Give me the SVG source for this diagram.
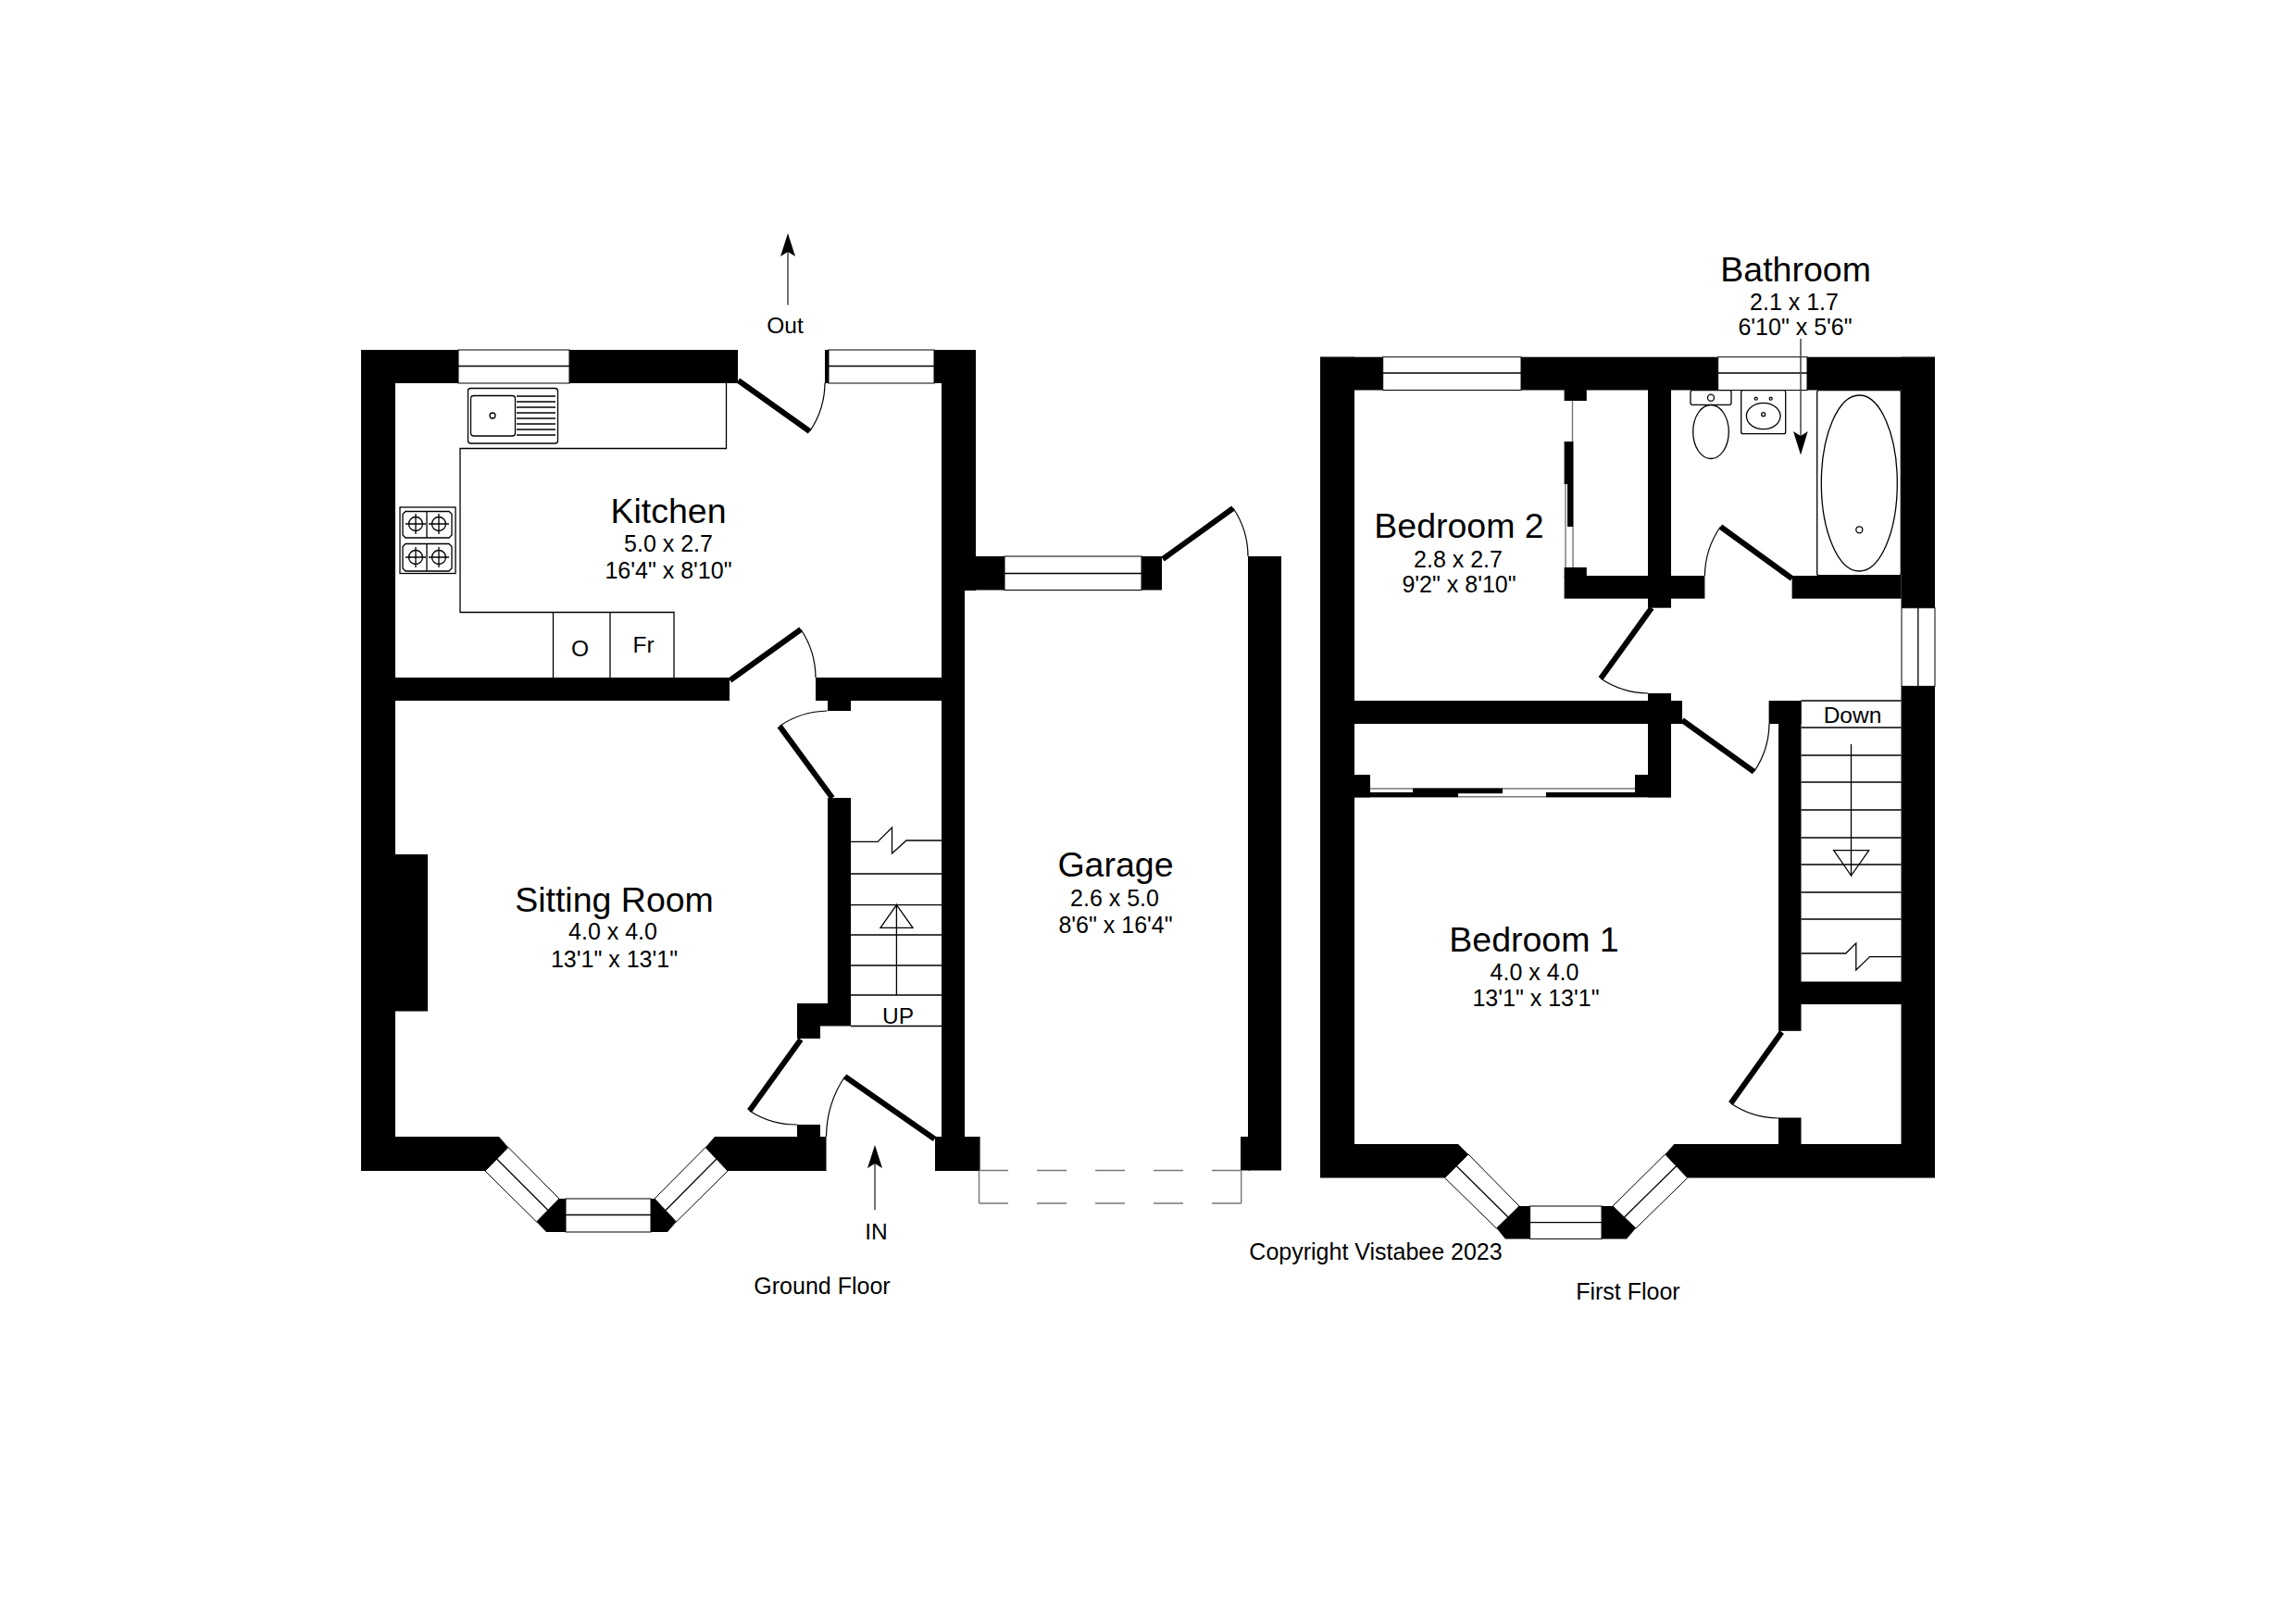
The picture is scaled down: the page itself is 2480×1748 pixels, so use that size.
<svg xmlns="http://www.w3.org/2000/svg" width="2480" height="1748" viewBox="0 0 2480 1748">
<style>
text{font-family:"Liberation Sans",Arial,sans-serif;fill:#000;text-anchor:middle}
.n{font-size:37.5px}.s{font-size:25px}.l{font-size:24.5px}.f{font-size:25px}
.w{fill:#000}
.t{fill:none;stroke:#000;stroke-width:1.3}
.g{fill:none;stroke:#777;stroke-width:1.4}
.win{fill:#fff;stroke:#000;stroke-width:1}
.d{stroke:#000;stroke-width:6;fill:none}
.a{fill:none;stroke:#000;stroke-width:1.2}
</style>
<defs>
<g id="burner"><circle r="7.5" class="t"/><path d="M-11 0H11M0-11V11" class="t"/></g>
</defs>
<rect width="2480" height="1748" fill="#fff"/>

<g id="ground-walls" class="w">
<rect x="390" y="378" width="105" height="36"/>
<rect x="615" y="378" width="182" height="36"/>
<rect x="891" y="378" width="4" height="36"/>
<rect x="1009" y="378" width="45" height="36"/>
<rect x="390" y="378" width="37" height="887"/>
<rect x="427" y="923" width="35" height="169.500"/>
<rect x="1017" y="378" width="37" height="260"/>
<rect x="1017" y="601" width="25" height="664"/>
<rect x="1017" y="601" width="68" height="36.500"/>
<rect x="1233" y="601" width="22" height="36.500"/>
<rect x="427" y="732" width="361" height="25"/>
<rect x="881" y="732" width="136" height="25"/>
<rect x="894" y="757" width="25" height="11"/>
<rect x="894" y="862" width="25" height="246.500"/>
<path d="M861 1084H894V1108.500H886V1122H861Z"/>
<path d="M427 1228H539L549 1239.500L524 1265H427Z"/>
<path d="M772 1228H861V1215H886V1228H892.500V1265H786L762 1239.500Z"/>
<path d="M604 1295H611V1331H590L579.500 1320Z"/>
<path d="M703 1295H708L730.500 1320L721 1331H703Z"/>
<rect x="1010" y="1228" width="48.600" height="37"/>
<rect x="1348" y="601" width="36" height="663.500"/>
<rect x="1340" y="1228" width="10" height="36.500"/>
</g>

<g id="ground-windows">
<rect x="495" y="378" width="120" height="36" class="win"/><path d="M495 395.500H615" class="t"/>
<rect x="895" y="378" width="114" height="36" class="win"/><path d="M895 395.500H1009" class="t"/>
<rect x="1085" y="601" width="148" height="36.500" class="win"/><path d="M1085 619.500H1233" class="t"/>
<path d="M549 1239.500L604 1295L579.500 1320L524 1265Z" class="win"/><path d="M536.500 1252L592 1307.500" class="t"/>
<rect x="611" y="1295" width="92" height="36" class="win"/><path d="M611 1312.500H703" class="t"/>
<path d="M707 1295L762 1239.500L786 1265L730.500 1320Z" class="win"/><path d="M719 1307.500L774 1252" class="t"/>
</g>

<g id="ground-doors">
<path d="M797.400 411L874.600 466M788.500 735L865 680M1009.500 1230.500L912.600 1163M865 1123L809.500 1200M899 862L842 784.400M1256 604L1332 549" class="d"/>
<path d="M874.600 466A94 94 0 0 0 891 413.500M865 680A94 94 0 0 1 881 732M912.600 1163A118 118 0 0 0 892.500 1228M809.500 1200A93 93 0 0 0 861 1215M842 784.400A95 95 0 0 1 893.500 768M1332 549A93 93 0 0 1 1348 601" class="a"/>
</g>

<g id="kitchen-fittings">
<path d="M784.500 414V484.500H497V661.500H728V732M597.500 661.500V732M659 661.500V732" class="t"/>
<rect x="505.500" y="419.500" width="97" height="59.500" rx="3" class="t"/>
<rect x="508.500" y="427.500" width="48" height="43.500" rx="3" class="t"/>
<circle cx="532" cy="449" r="3" class="t"/>
<path d="M558 428H600M558 434H600M558 440H600M558 446H600M558 452H600M558 458H600M558 464H600M558 470H600" class="t"/>
<rect x="432" y="548" width="60" height="71.500" class="t"/>
<path d="M438 552.500H485L488 555.500V578L485 581H438L435 578V555.500ZM438 587.500H485L488 590.500V614L485 617H438L435 614V590.500ZM461 552.500V581M461 587.500V617" class="t"/>
<use href="#burner" x="449" y="566"/><use href="#burner" x="474" y="566"/><use href="#burner" x="449" y="602"/><use href="#burner" x="474" y="602"/>
</g>

<g id="ground-stairs">
<path d="M919 944H1017M919 977.600H1017M919 1010H1017M919 1043H1017M919 1075H1017M919 1108.500H1017" class="t"/>
<path d="M919 909.400H948L963.500 894V922L979 908H1017" class="t"/>
<path d="M968.400 1075V977.600L951 1002.400H986L968.400 977.600" class="t"/>
</g>

<g id="garage-door" class="g">
<path d="M1057.500 1264.500H1089M1120 1264.500H1152M1183 1264.500H1215M1246 1264.500H1278M1309 1264.500H1340.700M1057.500 1300H1089M1120 1300H1152M1183 1300H1215M1246 1300H1278M1309 1300H1340.700M1057.500 1264.500V1300M1340.700 1264.500V1300"/>
</g>

<g id="first-walls" class="w">
<rect x="1426" y="385.700" width="67.700" height="35.800"/>
<rect x="1643" y="385.700" width="212.700" height="35.800"/>
<rect x="1952" y="385.700" width="138" height="35.800"/>
<rect x="1426" y="385.700" width="37" height="886.800"/>
<rect x="2053.500" y="385.700" width="36.500" height="271"/>
<rect x="2053.500" y="741.400" width="36.500" height="531.100"/>
<rect x="1780" y="421" width="25" height="235.700"/>
<rect x="1689.600" y="421" width="24.200" height="12"/>
<path d="M1689.600 477H1699.500V569H1693V523H1689.600Z"/>
<rect x="1689.600" y="613" width="24.200" height="10"/>
<rect x="1689.600" y="622" width="151.800" height="24.700"/>
<rect x="1935.600" y="622" width="118" height="24.700"/>
<rect x="1780" y="749" width="25" height="9"/>
<rect x="1463" y="757" width="354" height="25"/>
<rect x="1780" y="782" width="25" height="79.400"/>
<rect x="1463" y="837" width="17" height="24.400"/>
<rect x="1766" y="837" width="39" height="24.400"/>
<rect x="1526" y="851.400" width="97" height="5.800"/>
<rect x="1463" y="856" width="112" height="5.400"/>
<rect x="1670" y="856" width="96" height="5.400"/>
<rect x="1910.600" y="757" width="35" height="25"/>
<rect x="1921" y="757" width="24.500" height="356.800"/>
<rect x="1945" y="1060.500" width="109" height="24.500"/>
<rect x="1921" y="1207.500" width="24.500" height="30"/>
<path d="M1463 1236H1575L1586 1247L1560.600 1272.500H1463Z"/>
<path d="M1808.400 1236H2054V1272.500H1822.700L1798.600 1247Z"/>
<path d="M1641 1303H1652.600V1338.400H1626L1616.400 1326.700Z"/>
<path d="M1730 1303H1742L1767 1326.700L1757 1338.400H1730Z"/>
</g>

<g id="first-windows">
<rect x="1493.700" y="385.700" width="149.300" height="35.800" class="win"/><path d="M1493.700 403H1643" class="t"/>
<rect x="1855.700" y="385.700" width="96.300" height="35.800" class="win"/><path d="M1855.700 403H1952" class="t"/>
<rect x="2054" y="656.700" width="36" height="84.700" class="win"/><path d="M2071.800 656.700V741.400" class="t"/>
<path d="M1586 1247L1641 1303L1616.400 1327L1560.600 1272.500Z" class="win"/><path d="M1573.300 1259.700L1629 1315" class="t"/>
<rect x="1652.600" y="1303" width="77.400" height="35.400" class="win"/><path d="M1652.600 1320.700H1730" class="t"/>
<path d="M1742 1303L1798.600 1247L1822.700 1272.500L1767 1327Z" class="win"/><path d="M1754.500 1315L1810.700 1259.700" class="t"/>
</g>

<g id="first-doors">
<path d="M1935.600 625L1858.400 569M1784 656.700L1729 733M1817 778L1894.600 833.700M1924.500 1115L1869.500 1192" class="d"/>
<path d="M1858.400 569A95 95 0 0 0 1841.400 622M1729 733A93 93 0 0 0 1780 749M1894.600 833.700A94 94 0 0 0 1911 782M1869.500 1192A93 93 0 0 0 1921 1208" class="a"/>
<path d="M1698.500 433V477M1691 523V613M1699 569V613M1480 852H1526M1623 852H1766M1575 860.800H1670" class="g"/>
</g>

<g id="first-stairs">
<path d="M1945.500 786H2053.500M1945.500 816H2053.500M1945.500 845H2053.500M1945.500 875H2053.500M1945.500 905H2053.500M1945.500 934H2053.500M1945.500 964H2053.500M1945.500 993H2053.500M1945.500 757H2053.500" class="t"/>
<path d="M1945.500 1030H1993.700L2004.800 1019V1048L2019.600 1033.600H2053.500" class="t"/>
<path d="M1999.500 804V946L1980.700 918.700H2018.700L1999.500 946" class="t"/>
</g>

<g id="bathroom-fittings">
<rect x="1962.700" y="421.700" width="90.600" height="200" rx="2" class="t"/>
<ellipse cx="2008.300" cy="522" rx="41" ry="95" class="t"/>
<circle cx="2008.300" cy="572.300" r="3.500" class="t"/>
<rect x="1826" y="421.700" width="44" height="15.600" rx="2" class="t"/>
<circle cx="1848" cy="429.700" r="3.500" class="t"/>
<ellipse cx="1848" cy="466.500" rx="19.300" ry="29" class="t"/>
<rect x="1880.700" y="421.700" width="48" height="47" rx="2" class="t"/>
<ellipse cx="1904.700" cy="449.500" rx="18.300" ry="14.200" class="t"/>
<circle cx="1904.700" cy="447.700" r="2" class="t"/>
<circle cx="1896.700" cy="430.700" r="1.500" class="t"/>
<circle cx="1912.700" cy="430.700" r="1.500" class="t"/>
</g>

<g id="arrows">
<path d="M851 329.500V272" stroke="#444" stroke-width="1.500" fill="none"/>
<path d="M851 252L859 277L851 272L843 277Z"/>
<path d="M945 1307V1257" stroke="#444" stroke-width="1.500" fill="none"/>
<path d="M945 1237L953 1262L945 1257L937 1262Z"/>
<path d="M1945 366V471" stroke="#444" stroke-width="1.500" fill="none"/>
<path d="M1945 491.400L1937 466L1945 471L1952.700 466Z"/>
</g>

<g id="labels">
<text x="848" y="359.500" class="l">Out</text>
<text x="722" y="565" class="n">Kitchen</text>
<text x="722" y="596" class="s">5.0 x 2.7</text>
<text x="722" y="624.500" class="s">16'4" x 8'10"</text>
<text x="626.500" y="709" class="l">O</text>
<text x="695" y="705" class="l">Fr</text>
<text x="663.500" y="985" class="n">Sitting Room</text>
<text x="662" y="1015" class="s">4.0 x 4.0</text>
<text x="663.500" y="1044.500" class="s">13'1" x 13'1"</text>
<text x="970" y="1106" class="l">UP</text>
<text x="946.500" y="1339" class="l">IN</text>
<text x="888" y="1397.500" class="f">Ground Floor</text>
<text x="1205" y="947" class="n">Garage</text>
<text x="1204" y="979" class="s">2.6 x 5.0</text>
<text x="1205" y="1008" class="s">8'6" x 16'4"</text>
<text x="1939.600" y="303.700" class="n">Bathroom</text>
<text x="1938" y="335" class="s">2.1 x 1.7</text>
<text x="1939" y="362" class="s">6'10" x 5'6"</text>
<text x="1576" y="581" class="n">Bedroom 2</text>
<text x="1575" y="612.600" class="s">2.8 x 2.7</text>
<text x="1576" y="640" class="s">9'2" x 8'10"</text>
<text x="2001" y="781" class="l">Down</text>
<text x="1657" y="1027.500" class="n">Bedroom 1</text>
<text x="1657.500" y="1058.700" class="s">4.0 x 4.0</text>
<text x="1659" y="1087" class="s">13'1" x 13'1"</text>
<text x="1486" y="1361.400" class="f">Copyright Vistabee 2023</text>
<text x="1758.400" y="1404" class="f">First Floor</text>
</g>
</svg>
